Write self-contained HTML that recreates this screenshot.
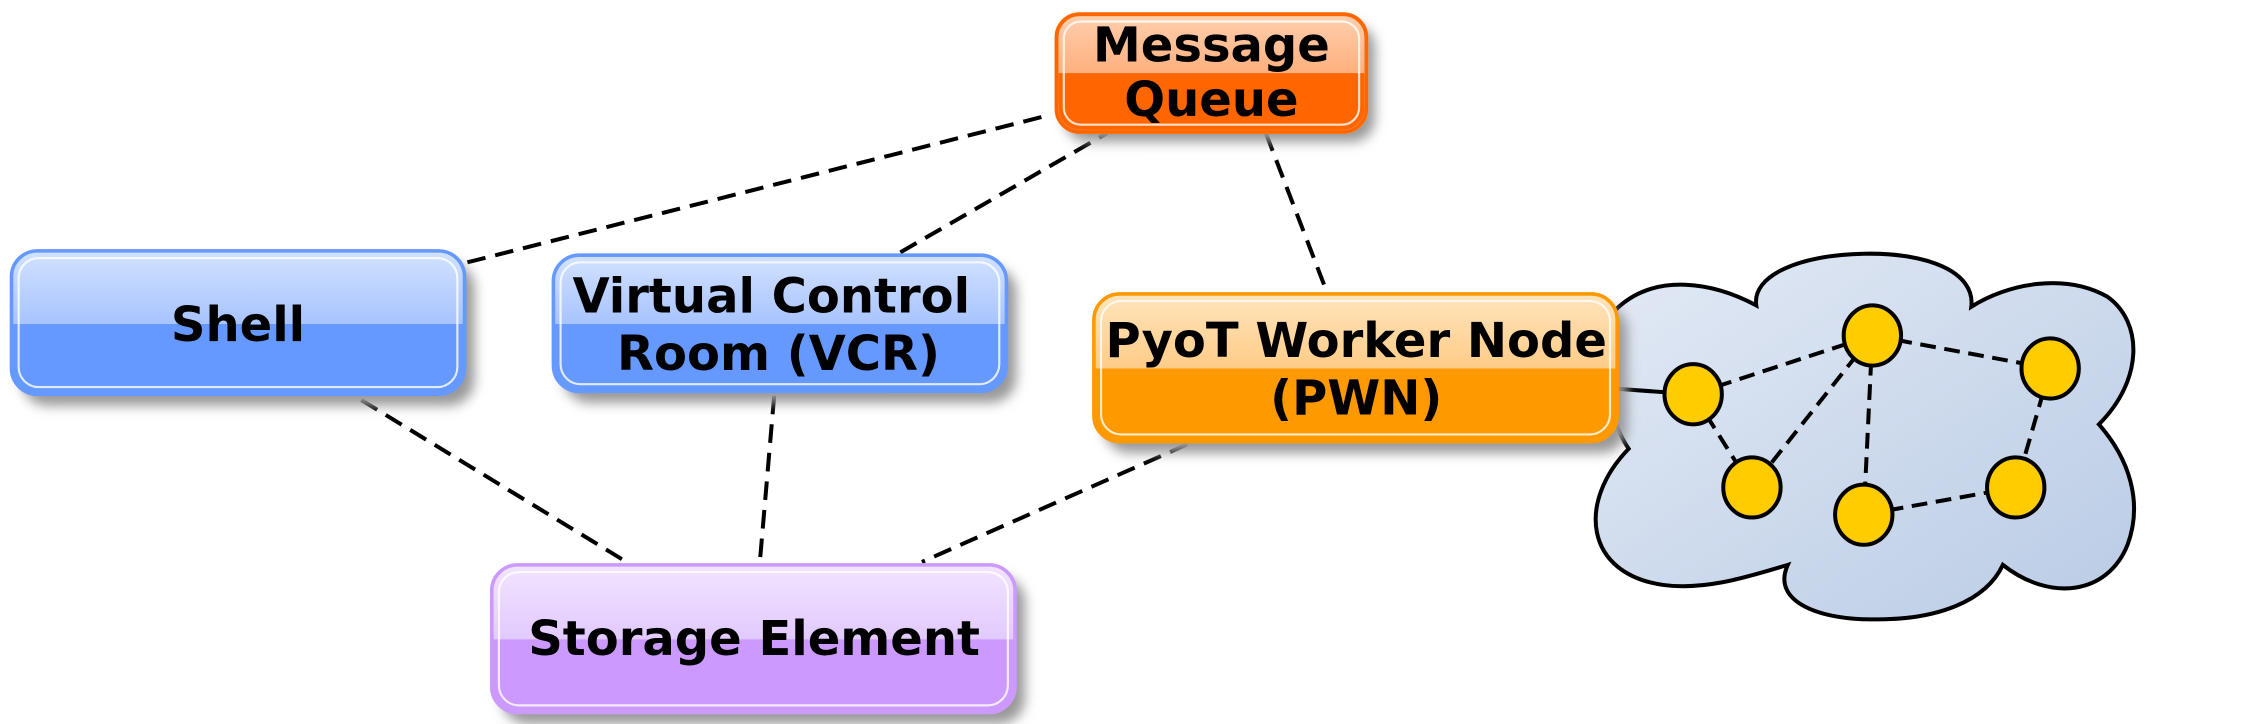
<!DOCTYPE html>
<html><head><meta charset="utf-8"><style>html,body{margin:0;padding:0;background:#fff}svg{display:block}</style></head>
<body>
<svg width="2248" height="724" viewBox="0 0 1568 505" xmlns="http://www.w3.org/2000/svg">
<defs>
<filter id="sh" x="-10%" y="-20%" width="130%" height="160%"><feGaussianBlur stdDeviation="4"/></filter>
<linearGradient id="gb" x1="0" y1="0" x2="0" y2="1"><stop offset="0" stop-color="#d2e2ff"/><stop offset="1" stop-color="#a8c4ff"/></linearGradient>
<linearGradient id="go" x1="0" y1="0" x2="0" y2="1"><stop offset="0" stop-color="#ffcfae"/><stop offset="1" stop-color="#ffb07e"/></linearGradient>
<linearGradient id="gp" x1="0" y1="0" x2="0" y2="1"><stop offset="0" stop-color="#ffe4bc"/><stop offset="1" stop-color="#ffcc88"/></linearGradient>
<linearGradient id="gv" x1="0" y1="0" x2="0" y2="1"><stop offset="0" stop-color="#f2e4ff"/><stop offset="1" stop-color="#e2caff"/></linearGradient>
<linearGradient id="gc" x1="0" y1="0" x2="1" y2="1"><stop offset="0" stop-color="#e3eaf5"/><stop offset="1" stop-color="#b9cbe5"/></linearGradient>
</defs>

<g stroke="#000" stroke-width="2.8" stroke-dasharray="13,7" fill="none">
<line x1="326" y1="183" x2="733" y2="80"/>
<line x1="628" y1="176" x2="772" y2="93"/>
<line x1="883" y1="93" x2="926" y2="205"/>
<line x1="252" y1="279" x2="437" y2="392"/>
<line x1="540" y1="276" x2="530" y2="392"/>
<line x1="828" y1="310" x2="643" y2="392"/>
</g>

<path d="M1136,313 C1100,350 1105,400 1160,408 C1190,412 1220,402 1247,394 C1235,420 1270,433 1310,432 C1350,432 1385,420 1397,394 C1430,420 1470,415 1484,380 C1495,350 1485,320 1464,296 C1495,265 1495,225 1470,207 C1440,190 1400,198 1375,214 C1378,190 1345,176 1300,177 C1255,178 1222,192 1225,213 C1195,197 1155,190 1128,215 C1110,235 1120,290 1136,313 Z" fill="url(#gc)" stroke="#000" stroke-width="2.8"/>
<g stroke="#000" stroke-width="2.8" stroke-dasharray="11,6" fill="none">
<line x1="1181" y1="275" x2="1306" y2="234"/>
<line x1="1181" y1="275" x2="1222" y2="340"/>
<line x1="1306" y1="234" x2="1222" y2="340"/>
<line x1="1306" y1="234" x2="1300" y2="359"/>
<line x1="1306" y1="234" x2="1430" y2="257"/>
<line x1="1430" y1="257" x2="1406" y2="340"/>
<line x1="1300" y1="359" x2="1406" y2="340"/>
</g>
<line x1="1125" y1="271" x2="1181" y2="275" stroke="#000" stroke-width="2.8"/>
<g fill="#ffcc00" stroke="#000" stroke-width="2.8">
<ellipse cx="1181" cy="275" rx="20" ry="21"/>
<ellipse cx="1306" cy="234" rx="20" ry="21"/>
<ellipse cx="1430" cy="257" rx="20" ry="21"/>
<ellipse cx="1222" cy="340" rx="20" ry="21"/>
<ellipse cx="1300" cy="359" rx="20" ry="21"/>
<ellipse cx="1406" cy="340" rx="20" ry="21"/>
</g>

<g font-family="'DejaVu Sans','Liberation Sans',sans-serif" font-weight="bold" font-size="33.5" text-anchor="middle" fill="#000">
<rect x="743" y="17" width="216" height="82" rx="16" fill="#999" filter="url(#sh)"/>
<rect x="737" y="10" width="216" height="82" rx="16" fill="#ff6600" stroke="#ff9a50" stroke-width="3"/>
<path d="M753,10 H937 A16,16 0 0 1 953,26 V51 H737 V26 A16,16 0 0 1 753,10 Z" fill="url(#go)"/>
<rect x="737" y="10" width="216" height="82" rx="16" fill="none" stroke="#ff6600" stroke-width="2.5"/>
<rect x="742" y="15" width="206" height="72" rx="12" fill="none" stroke="#fff" stroke-width="1.5" opacity="0.8"/>
<text x="845" y="43">Message</text>
<text x="845" y="81">Queue</text>

<rect x="15" y="183" width="316" height="100" rx="18" fill="#999" filter="url(#sh)"/>
<rect x="8" y="175" width="316" height="100" rx="18" fill="#6699ff"/>
<path d="M26,175 H306 A18,18 0 0 1 324,193 V226 H8 V193 A18,18 0 0 1 26,175 Z" fill="url(#gb)"/>
<rect x="8" y="175" width="316" height="100" rx="18" fill="none" stroke="#6699ff" stroke-width="2.5"/>
<rect x="13" y="180" width="306" height="90" rx="14" fill="none" stroke="#fff" stroke-width="1.5" opacity="0.8"/>
<text x="166" y="238">Shell</text>

<rect x="393" y="186" width="316" height="95" rx="18" fill="#999" filter="url(#sh)"/>
<rect x="386" y="178" width="316" height="95" rx="18" fill="#6699ff"/>
<path d="M404,178 H684 A18,18 0 0 1 702,196 V226 H386 V196 A18,18 0 0 1 404,178 Z" fill="url(#gb)"/>
<rect x="386" y="178" width="316" height="95" rx="18" fill="none" stroke="#6699ff" stroke-width="2.5"/>
<rect x="391" y="183" width="306" height="85" rx="14" fill="none" stroke="#fff" stroke-width="1.5" opacity="0.8"/>
<text x="538" y="218">Virtual Control</text>
<text x="543" y="258">Room (VCR)</text>

<rect x="770" y="213" width="365" height="103" rx="18" fill="#999" filter="url(#sh)"/>
<rect x="763" y="205" width="365" height="103" rx="18" fill="#ff9900"/>
<path d="M781,205 H1110 A18,18 0 0 1 1128,223 V257 H763 V223 A18,18 0 0 1 781,205 Z" fill="url(#gp)"/>
<rect x="763" y="205" width="365" height="103" rx="18" fill="none" stroke="#ff9900" stroke-width="2.5"/>
<rect x="768" y="210" width="355" height="93" rx="14" fill="none" stroke="#fff" stroke-width="1.5" opacity="0.8"/>
<text x="946" y="249">PyoT Worker Node</text>
<text x="946" y="289">(PWN)</text>

<rect x="350" y="402" width="365" height="103" rx="18" fill="#999" filter="url(#sh)"/>
<rect x="343" y="394" width="365" height="103" rx="18" fill="#cc99ff"/>
<path d="M361,394 H690 A18,18 0 0 1 708,412 V446 H343 V412 A18,18 0 0 1 361,394 Z" fill="url(#gv)"/>
<rect x="343" y="394" width="365" height="103" rx="18" fill="none" stroke="#cc99ff" stroke-width="2.5"/>
<rect x="348" y="399" width="355" height="93" rx="14" fill="none" stroke="#fff" stroke-width="1.5" opacity="0.8"/>
<text x="526" y="457">Storage Element</text>
</g>
</svg>
</body></html>
